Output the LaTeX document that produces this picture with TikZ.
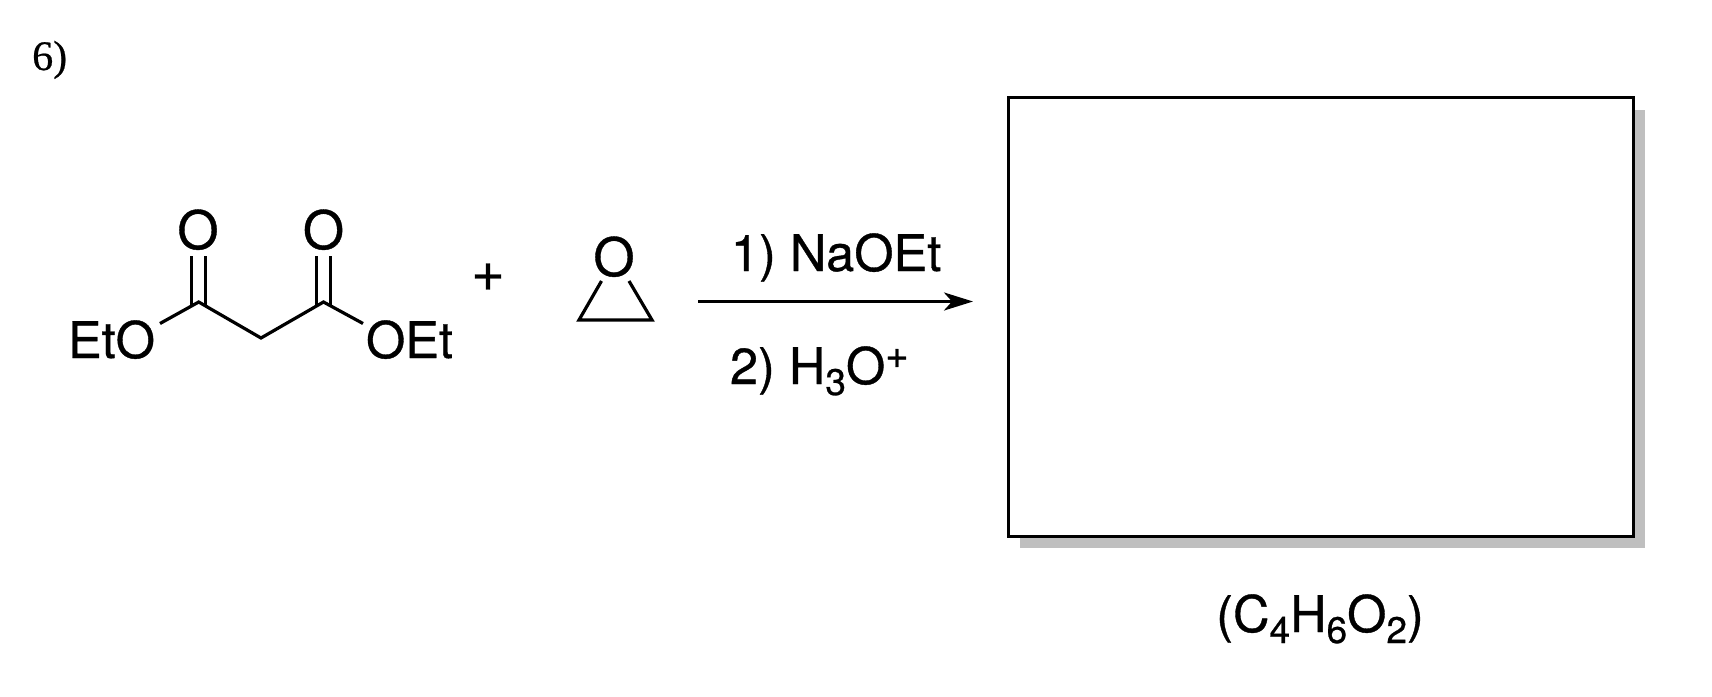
\documentclass[tikz,border=0pt]{standalone}
\usepackage{fontspec}
\setmainfont[FakeBold=0.7]{TeX Gyre Heros}
\newfontfamily\serifnum[FakeBold=0.5]{Liberation Serif}
\usetikzlibrary{arrows.meta}
\newcommand{\chemsize}{\fontsize{50.5}{54}\selectfont}
\newcommand{\lowidx}[1]{\raisebox{-11pt}{\fontsize{37}{38}\selectfont #1}}
\newcommand{\highidx}[1]{\raisebox{16pt}{\fontsize{40}{36}\selectfont #1}}
\tikzset{
  x=1pt,y=-1pt,
  atomlabel/.style={inner sep=0pt,outer sep=0pt,font=\chemsize,text=black},
  bondline/.style={draw=black,line width=3.2pt,line cap=butt,line join=miter},
  reactionarrow/.style={draw=black,line width=3pt,-{Stealth[length=29pt,width=18pt,inset=8pt]}},
}
\begin{document}
\begin{tikzpicture}
\useasboundingbox (0,0) rectangle (1712,696);
% answer box with shadow
\fill[fill=black!25] (1020,110) rectangle (1645,548);
\node[draw=black,fill=white,line width=3.2pt,inner sep=0pt,minimum width=625pt,minimum height=439pt,anchor=north west] (answerbox) at (1006.5,95.5) {};
% texts
\node[anchor=base west,inner sep=0pt,font=\serifnum\fontsize{42}{46}\selectfont] (qnum) at (32,70) {6)};
\node[atomlabel,anchor=base,font=\fontsize{53}{56}\selectfont] (o1) at (198,249) {O};
\node[atomlabel,anchor=base,font=\fontsize{53}{56}\selectfont] (o2) at (323.5,249) {O};
\node[atomlabel,anchor=base west] (eto) at (68,358) {EtO};
\node[atomlabel,anchor=base west] (oet) at (366,358) {OEt};
\node[atomlabel,anchor=base,font=\fontsize{58}{60}\selectfont] (plus) at (488,291) {+};
\node[atomlabel,anchor=base,font=\fontsize{53}{56}\selectfont] (o3) at (614,276) {O};
\node[atomlabel,anchor=base west] (cond1) at (731,271) {1) NaOEt};
\node[atomlabel,anchor=base west] (cond2) at (730,384) {2) H\lowidx{3}O\highidx{+}};
\node[atomlabel,anchor=base] (formula) at (1320,632) {(C\lowidx{4}H\lowidx{6}O\lowidx{2})};
% skeleton points
\coordinate (c1) at (198.7,302);
\coordinate (c2) at (261,338);
\coordinate (c3) at (323.5,302);
\coordinate (eo) at (160,323.5);
\coordinate (oe) at (363,323.5);
\coordinate (d1a) at (191.7,256);
\coordinate (d1b) at (191.7,306);
\coordinate (d1c) at (205.5,256);
\coordinate (d1d) at (205.5,306);
\coordinate (d2a) at (316.7,256);
\coordinate (d2b) at (316.7,306);
\coordinate (d2c) at (330.5,256);
\coordinate (d2d) at (330.5,306);
\coordinate (ep1) at (601.5,281);
\coordinate (ep2) at (579,320);
\coordinate (ep3) at (652,320);
\coordinate (ep4) at (629,281);
\coordinate (arr1) at (698,301.5);
\coordinate (arr2) at (973,301.5);
% bonds
\draw[bondline] (eo) -- (c1) -- (c2) -- (c3) -- (oe);
\draw[bondline] (d1a) -- (d1b);
\draw[bondline] (d1c) -- (d1d);
\draw[bondline] (d2a) -- (d2b);
\draw[bondline] (d2c) -- (d2d);
\draw[bondline] (ep1) -- (ep2) -- (ep3) -- (ep4);
\draw[reactionarrow] (arr1) -- (arr2);
\end{tikzpicture}
\end{document}
